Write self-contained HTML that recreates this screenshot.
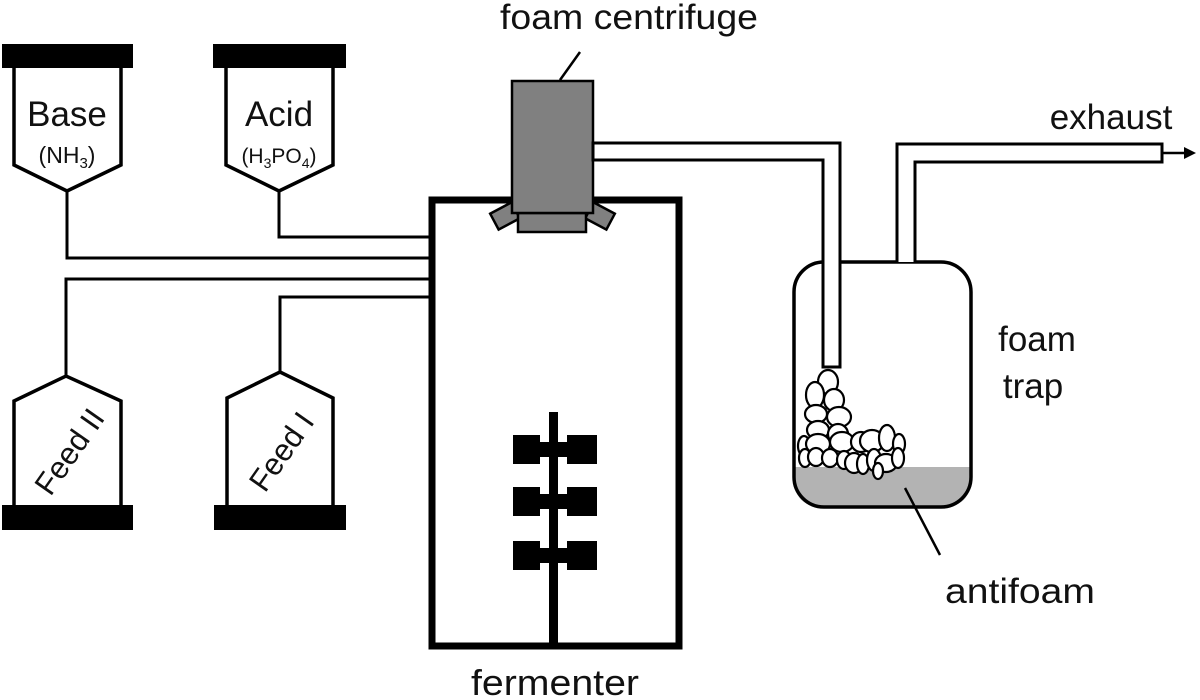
<!DOCTYPE html>
<html><head><meta charset="utf-8"><style>
html,body{margin:0;padding:0;background:#fff;width:1200px;height:700px;overflow:hidden}
svg{display:block}
text{font-family:"Liberation Sans",sans-serif;fill:#111}
</style></head><body>
<svg width="1200" height="700" viewBox="0 0 1200 700">
<!-- Base bottle -->
<rect x="2" y="44" width="131" height="24" fill="#000"/>
<path d="M14 68 V165 L67 191 L121 165 V68" fill="none" stroke="#000" stroke-width="3.5"/>
<text x="67" y="126" font-size="35" text-anchor="middle">Base</text>
<text x="67" y="163" font-size="23" text-anchor="middle">(NH<tspan font-size="15" dy="5">3</tspan><tspan dy="-5">)</tspan></text>
<!-- Acid bottle -->
<rect x="213" y="44" width="133" height="24" fill="#000"/>
<path d="M226 68 V165 L279 191 L333 165 V68" fill="none" stroke="#000" stroke-width="3.5"/>
<text x="279" y="126" font-size="35" text-anchor="middle">Acid</text>
<text x="279" y="163" font-size="21" text-anchor="middle">(H<tspan font-size="14" dy="5">3</tspan><tspan dy="-5">PO</tspan><tspan font-size="14" dy="5">4</tspan><tspan dy="-5">)</tspan></text>
<!-- pipes -->
<g fill="none" stroke="#000" stroke-width="3">
<path d="M67 191 V258 H430"/>
<path d="M279 191 V237 H430"/>
<path d="M66 376 V279 H430"/>
<path d="M280 372 V297 H430"/>
</g>
<!-- Feed II -->
<rect x="2" y="505" width="131" height="25" fill="#000"/>
<path d="M14 505 V401 L66 376 L121 401 V505" fill="none" stroke="#000" stroke-width="3.5"/>
<text x="70" y="462" font-size="31" text-anchor="middle" transform="rotate(-55 70 452)">Feed II</text>
<!-- Feed I -->
<rect x="214" y="505" width="132" height="25" fill="#000"/>
<path d="M227 505 V398 L280 372 L333 398 V505" fill="none" stroke="#000" stroke-width="3.5"/>
<text x="282" y="462" font-size="31" text-anchor="middle" transform="rotate(-55 282 452)">Feed I</text>
<!-- Fermenter -->
<rect x="432" y="200" width="247" height="446" fill="none" stroke="#000" stroke-width="7"/>
<rect x="549" y="412" width="9" height="236" fill="#000"/>
<g fill="#000">
<rect x="513" y="435" width="27" height="29"/><rect x="567" y="435" width="30" height="29"/>
<rect x="513" y="487" width="27" height="29"/><rect x="567" y="487" width="30" height="29"/>
<rect x="513" y="541" width="27" height="29"/><rect x="567" y="541" width="30" height="29"/>
</g>
<rect x="540" y="442" width="27" height="15" fill="#000"/>
<rect x="540" y="494" width="27" height="15" fill="#000"/>
<rect x="540" y="548" width="27" height="15" fill="#000"/>
<text x="555" y="695" font-size="36" text-anchor="middle" textLength="168" lengthAdjust="spacingAndGlyphs">fermenter</text>
<!-- Centrifuge -->
<g fill="#808080" stroke="#000" stroke-width="2.5">
<rect x="493" y="207" width="24" height="18" transform="rotate(-28 505 216)"/>
<rect x="588" y="207" width="24" height="18" transform="rotate(28 600 216)"/>
<rect x="518" y="213" width="68" height="19"/>
<rect x="512" y="81" width="81" height="132"/>
</g>
<line x1="560" y1="80" x2="580" y2="52" stroke="#000" stroke-width="2.5"/>
<text x="629" y="29" font-size="35" text-anchor="middle" textLength="258" lengthAdjust="spacingAndGlyphs">foam centrifuge</text>
<!-- Foam trap -->
<path d="M794 467 H971 V478 Q971 507 942 507 H823 Q794 507 794 478 Z" fill="#b3b3b3"/>
<rect x="794" y="262" width="177" height="245" rx="30" fill="none" stroke="#000" stroke-width="3.5"/>
<!-- pipe centrifuge to trap -->
<path d="M593 143 H840 V367 H823 V160 H593 Z" fill="#fff" stroke="#000" stroke-width="3"/>
<!-- exhaust pipe -->
<path d="M897 262 V144 H1162 V162 H915 V262" fill="#fff" stroke="#000" stroke-width="3"/>
<line x1="1162" y1="153" x2="1186" y2="153" stroke="#000" stroke-width="2.5"/>
<path d="M1184 147 L1196 153 L1184 159 Z" fill="#000"/>
<text x="1111" y="129" font-size="35" text-anchor="middle">exhaust</text>
<!-- bubbles -->
<g fill="#fff" stroke="#000" stroke-width="2.2">
<ellipse cx="828" cy="382" rx="10" ry="12"/>
<ellipse cx="815" cy="395" rx="9" ry="13"/>
<ellipse cx="834" cy="400" rx="10" ry="11"/>
<ellipse cx="816" cy="414" rx="11" ry="9"/>
<ellipse cx="839" cy="417" rx="12" ry="10"/>
<ellipse cx="818" cy="430" rx="11" ry="9"/>
<ellipse cx="838" cy="434" rx="10" ry="10"/>
<ellipse cx="804" cy="446" rx="6" ry="10"/>
<ellipse cx="818" cy="444" rx="12" ry="10"/>
<ellipse cx="842" cy="442" rx="12" ry="10"/>
<ellipse cx="861" cy="442" rx="10" ry="10"/>
<ellipse cx="872" cy="441" rx="12" ry="11"/>
<ellipse cx="887" cy="438" rx="8" ry="13"/>
<ellipse cx="899" cy="444" rx="6" ry="10"/>
<ellipse cx="805" cy="458" rx="6" ry="9"/>
<ellipse cx="816" cy="457" rx="8" ry="9"/>
<ellipse cx="830" cy="458" rx="8" ry="9"/>
<ellipse cx="844" cy="460" rx="7" ry="9"/>
<ellipse cx="854" cy="463" rx="9" ry="10"/>
<ellipse cx="863" cy="464" rx="6" ry="10"/>
<ellipse cx="874" cy="460" rx="7" ry="11"/>
<ellipse cx="886" cy="463" rx="11" ry="9"/>
<ellipse cx="898" cy="458" rx="6" ry="10"/>
<ellipse cx="878" cy="471" rx="5" ry="8"/>
</g>
<line x1="905" y1="488" x2="940" y2="555" stroke="#000" stroke-width="2.5"/>
<text x="1020" y="603" font-size="35" text-anchor="middle" textLength="150" lengthAdjust="spacingAndGlyphs">antifoam</text>
<text x="1037" y="351" font-size="35" text-anchor="middle">foam</text>
<text x="1033" y="398" font-size="35" text-anchor="middle">trap</text>
</svg>
</body></html>
